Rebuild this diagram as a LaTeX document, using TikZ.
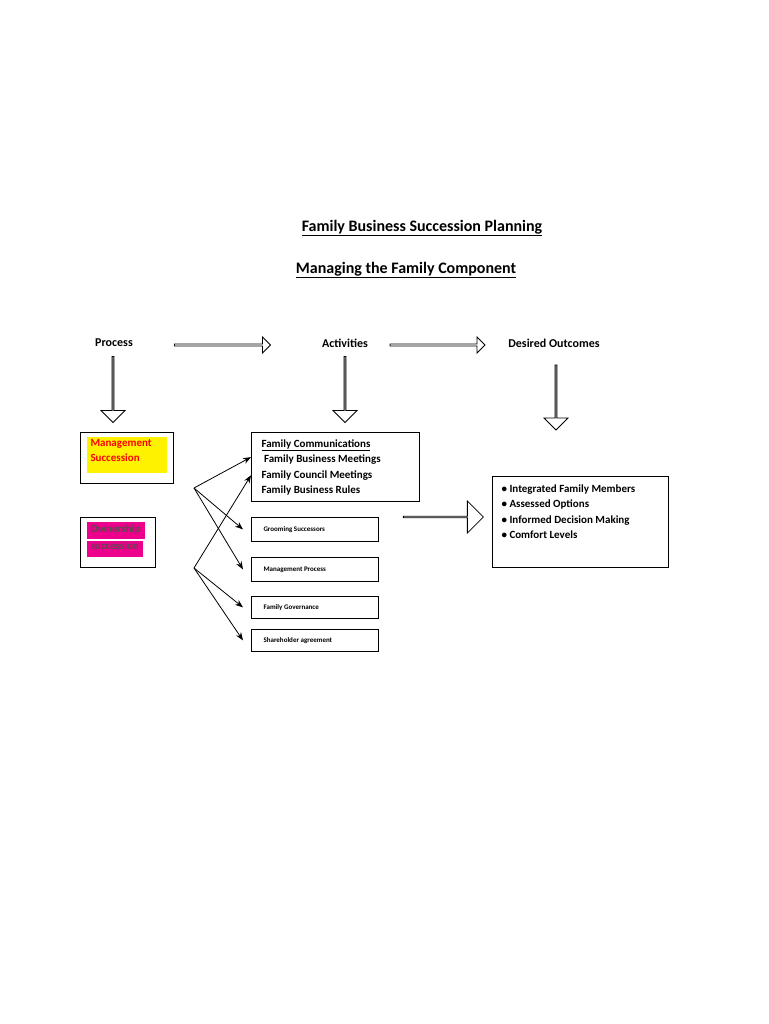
\documentclass[tikz,border=0pt]{standalone}
\usepackage{fontspec}
\setmainfont{Carlito}
\usetikzlibrary{arrows.meta,shapes.arrows,calc}
\tikzset{%
  tipA/.tip={Stealth[length=8pt,width=6pt]},
  box/.style={draw, thick, inner sep=0pt},
  head/.style={font=\bfseries\fontsize{12}{14}\selectfont},
  small/.style={font=\bfseries\fontsize{7}{8}\selectfont, anchor=west},
  fat/.style={draw, single arrow, inner sep=0pt, thick, fill=white},
  fan/.style={thick, -tipA}
}
\begin{document}
\begin{tikzpicture}[x=1pt,y=-1pt]
\useasboundingbox (0,0) rectangle (768,1024);
% titles
\node[font=\bfseries\fontsize{16}{18}\selectfont] (title) at (422,228) {\underline{Family Business Succession Planning}};
\node[font=\bfseries\fontsize{16}{18}\selectfont] (sub) at (406,270) {\underline{Managing the Family Component}};
% headings
\node[head] (proc) at (114,343) {Process};
\node[head] (act) at (345,343) {Activities};
\node[head] (out) at (554,343) {Desired Outcomes};
% block arrows
\node[fat, minimum height=96, minimum width=16, single arrow head extend=3] (a1) at (222,345) {};
\node[fat, minimum height=95, minimum width=16, single arrow head extend=3] (a2) at (437,345) {};
\node[fat, minimum height=66, minimum width=24, single arrow head extend=5, shape border rotate=270] (d1) at (113,389) {};
\node[fat, minimum height=66, minimum width=24, single arrow head extend=5, shape border rotate=270] (d2) at (345,389) {};
\node[fat, minimum height=65, minimum width=24, single arrow head extend=5, shape border rotate=270] (d3) at (556,397) {};
\node[fat, minimum height=80, minimum width=32, single arrow head extend=8] (a3) at (443,517) {};
% process boxes
\draw[box] (80,432) rectangle (173,483);
\fill[yellow] (87,437) rectangle (167,473);
\node[font=\bfseries\fontsize{11}{15}\selectfont, text=red, align=left, anchor=north west] (mgmt) at (87,436) {Management\\Succession};
\draw[box] (80,517) rectangle (155,567);
\fill[magenta] (87,522) rectangle (145,539);
\fill[magenta] (87,541) rectangle (143,557);
\node[font=\bfseries\fontsize{11}{17}\selectfont, text=black!70!magenta, align=left, anchor=north west] (own) at (87,521) {Ownership\\succession};
% activity boxes
\node[box, minimum width=168, minimum height=69, anchor=north west] (fc) at (251,432) {};
\node[font=\bfseries\fontsize{11}{15.5}\selectfont, align=left, anchor=north west] (fct) at (258,436)
  {\underline{Family Communications}\\\ Family Business Meetings\\Family Council Meetings\\Family Business Rules};
\node[box, minimum width=127, minimum height=24, anchor=north west] (gs) at (251,517) {};
\node[small] at ($(gs.west)+(9,0)$) {Grooming Successors};
\node[box, minimum width=127, minimum height=24, anchor=north west] (mp) at (251,557) {};
\node[small] at ($(mp.west)+(9,0)$) {Management Process};
\node[box, minimum width=127, minimum height=22, anchor=north west] (fg) at (251,596) {};
\node[small] at ($(fg.west)+(9,0)$) {Family Governance};
\node[box, minimum width=127, minimum height=22, anchor=north west] (sa) at (251,629) {};
\node[small] at ($(sa.west)+(9,0)$) {Shareholder agreement};
% outcomes
\node[box, minimum width=176, minimum height=91, anchor=north west] (oc) at (492,476) {};
\node[font=\bfseries\fontsize{11}{15.5}\selectfont, align=left, anchor=north west] (oct) at (498,481)
  {• Integrated Family Members\\• Assessed Options\\• Informed Decision Making\\• Comfort Levels};
% fans
\coordinate (fanA) at (194,488);
\coordinate (fanB) at (194,568);
\draw[fan] (fanA) -- ($(fc.north west)!0.36!(fc.south west)$);
\draw[fan] (fanA) -- ($(gs.west)+(-8,0)$);
\draw[fan] (fanA) -- ($(mp.west)+(-8,0)$);
\draw[fan] (fanB) -- ($(fc.north west)!0.62!(fc.south west)$);
\draw[fan] (fanB) -- ($(fg.west)+(-8,0)$);
\draw[fan] (fanB) -- ($(sa.west)+(-8,0)$);
\end{tikzpicture}
\end{document}
